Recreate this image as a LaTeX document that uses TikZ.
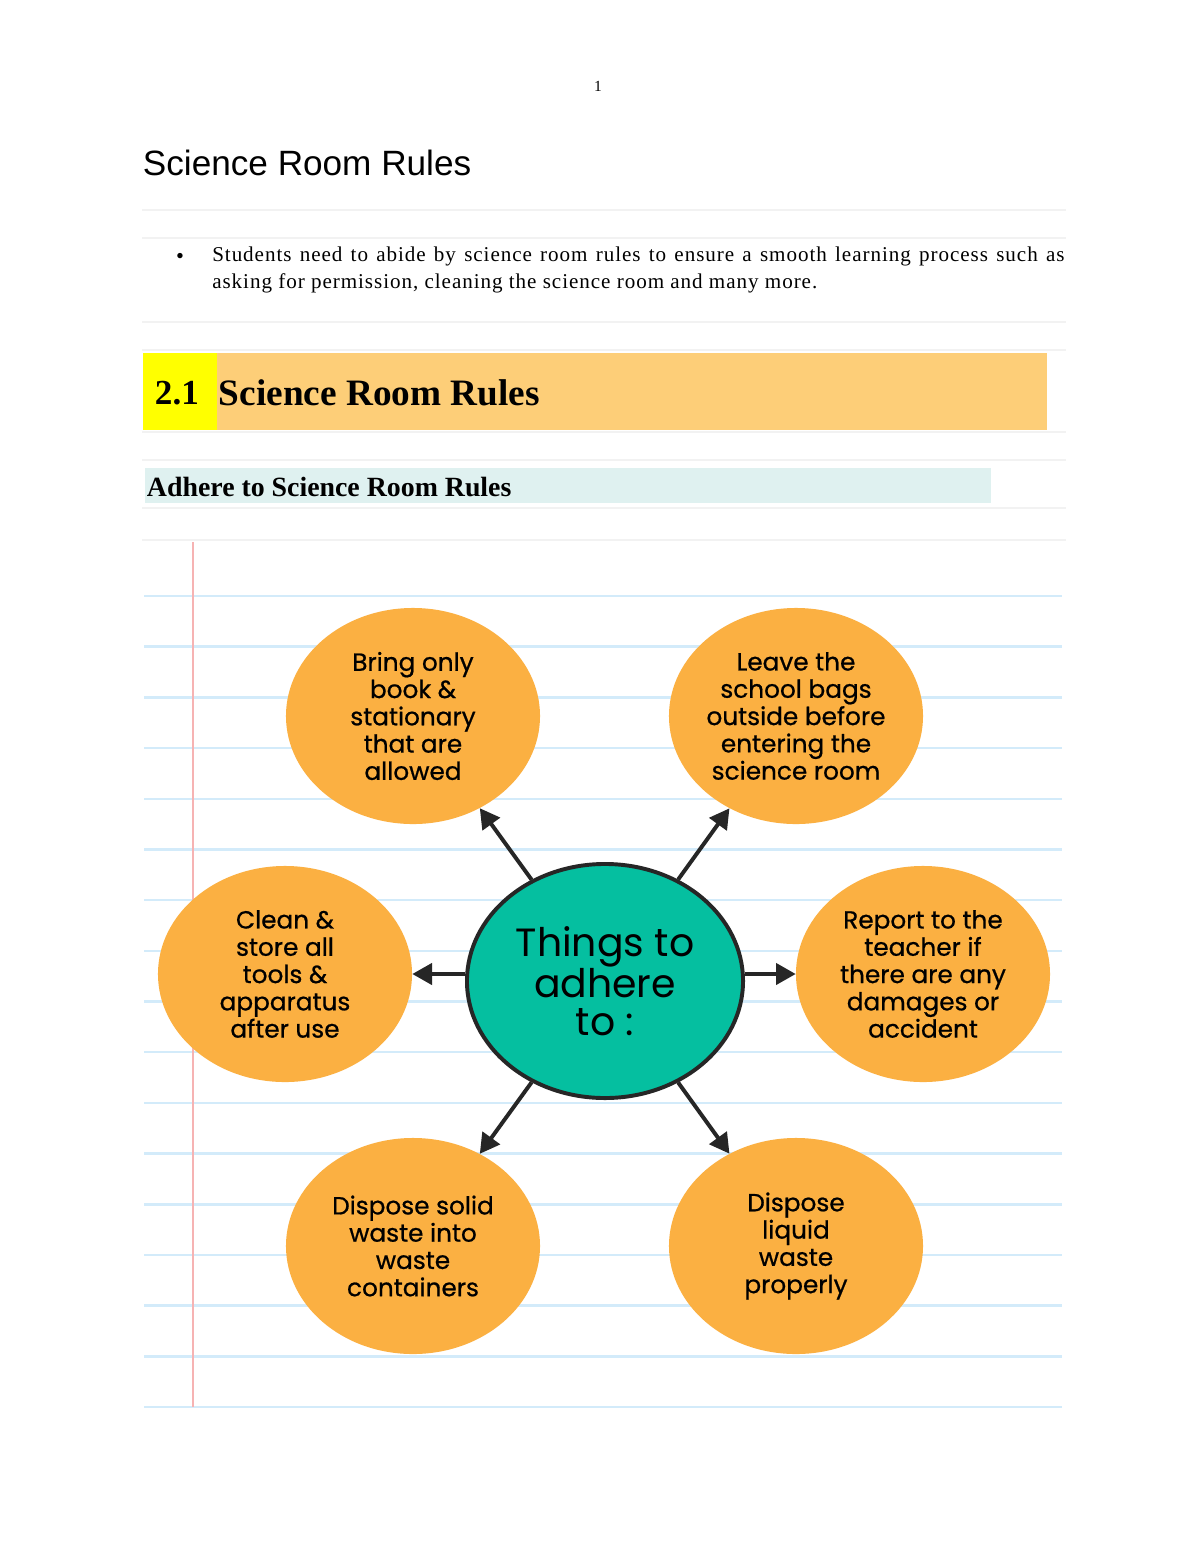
\documentclass[tikz,border=0pt]{standalone}
\usepackage{fontspec}
\setmainfont{Liberation Serif}
\newfontfamily\popfont{Poppins}[FakeBold=0.7]
\newfontfamily\poplight{Poppins}
\newfontfamily\arialfont{Liberation Sans}
\usepackage{xcolor}
\usetikzlibrary{positioning, arrows.meta, shapes.geometric}
\definecolor{ruleorange}{HTML}{FBB042}
\definecolor{ruleteal}{HTML}{05BFA0}
\definecolor{headband}{HTML}{FDCE78}
\definecolor{headyellow}{HTML}{FFFF00}
\definecolor{subband}{HTML}{DFF1F0}
\definecolor{paperblue}{HTML}{D3EBFA}
\definecolor{marginred}{HTML}{F6B3B3}
\definecolor{sepgray}{HTML}{F2F2F2}

\begin{document}
\begin{tikzpicture}[x=0.025cm, y=-0.025cm,
    rule/.style={ellipse, fill=ruleorange, minimum width=6.35cm, minimum height=5.4cm,
      align=center, font=\popfont\fontsize{17.6}{19.4}\selectfont, inner sep=0pt},
    link/.style={-{Triangle[length=14pt, width=15pt]}, line width=2.8pt, black!85}]
  \useasboundingbox (0,0) rectangle (1200,1553);
  \fill[white] (0,0) rectangle (1200,1553);

  % page number and heading text
  \node[font=\fontsize{11}{13}\selectfont] (pagenum) at (598,86) {1};
  \node[anchor=west, font=\arialfont\fontsize{25}{30}\selectfont] (title) at (138,163) {Science Room Rules};
  \foreach \y in {210,238,322,350,432,460,508,540}
    \draw[sepgray, line width=2pt] (142,\y) -- (1066,\y);
  \node[font=\fontsize{16}{19}\selectfont] (bullet) at (180,258) {\textbullet};
  \node[anchor=north west, text width=21.3cm, inner sep=0pt, align=justify,
        font=\fontsize{15}{19.2}\selectfont\addfontfeature{LetterSpace=4.5}] (intro) at (212,247)
    {Students need to abide by science room rules to ensure a smooth learning process such as\linebreak asking for permission, cleaning the science room and many more.};

  % section bands
  \fill[headband] (143,353) rectangle (1047,430);
  \fill[headyellow] (143,353) rectangle (217,430);
  \node[anchor=west, font=\bfseries\fontsize{25}{28}\selectfont] (secnum) at (150,393) {2.1};
  \node[anchor=west, font=\bfseries\fontsize{26.5}{30}\selectfont] (sectitle) at (214,393) {Science Room Rules};
  \fill[subband] (145,468) rectangle (991,503);
  \node[anchor=west, font=\bfseries\fontsize{19.8}{22}\selectfont] (subtitle) at (142,487) {Adhere to Science Room Rules};

  % ruled paper
  \foreach \i in {0,...,16}
    \draw[paperblue, line width=1.8pt] (144,596+\i*50.69) -- (1062,596+\i*50.69);
  \draw[marginred, line width=1.2pt] (193,542) -- (193,1407);

  % mind map
  \node[ellipse, fill=ruleteal, draw=black!85, line width=2.8pt, minimum width=6.9cm,
        minimum height=5.85cm, align=center, inner sep=0pt,
        font=\poplight\fontsize{28}{26.5}\selectfont] (things) at (605,981)
    {Things to\\adhere\\to :};
  \node[rule] (bring) at (413,716) {Bring only\\book \&\\stationary\\that are\\allowed};
  \node[rule] (leave) at (796,716) {Leave the\\school bags\\outside before\\entering the\\science room};
  \node[rule] (clean) at (285,974) {Clean \&\\store all\\tools \&\\apparatus\\after use};
  \node[rule] (report) at (923,974) {Report to the\\teacher if\\there are any\\damages or\\accident};
  \node[rule] (solid) at (413,1246) {Dispose solid\\waste into\\waste\\containers};
  \node[rule] (liquid) at (796,1246) {Dispose\\liquid\\waste\\properly};

  \draw[link] (things) -- (bring);
  \draw[link] (things) -- (leave);
  \draw[link] (things.west |- clean.east) -- (clean.east);
  \draw[link] (things.east |- report.west) -- (report.west);
  \draw[link] (things) -- (solid);
  \draw[link] (things) -- (liquid);
\end{tikzpicture}
\end{document}
